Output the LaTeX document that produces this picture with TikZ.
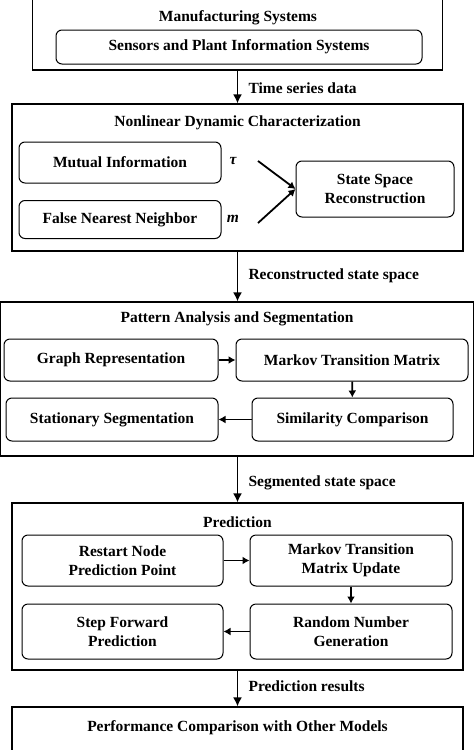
\documentclass[tikz,border=0pt]{standalone}
\usepackage{fontspec}
\setmainfont{Liberation Serif}
\usetikzlibrary{arrows.meta}
\begin{document}
\begin{tikzpicture}[x=1pt, y=-1pt,
		font=\bfseries\fontsize{15.5}{19}\selectfont,
		outer/.style={draw, line width=1.1pt, inner sep=0pt},
		block/.style={draw, line width=1pt, rounded corners=6pt, align=center, inner sep=0pt},
		flow/.style={line width=1.8pt, -{Latex[length=9pt, width=9pt]}},
		small/.style={line width=1.8pt, -{Latex[length=7pt, width=8pt]}}]
	\useasboundingbox (0,0) rectangle (474,750);
	\clip (0,0) rectangle (474,750);
	% manufacturing systems
	\node[outer, minimum width=410pt, minimum height=72pt] (sys) at (237.5,34) {};
	\node (systitle) at (238,18) {Manufacturing Systems};
	\node[block, minimum width=366pt, minimum height=34pt] (sensors) at (239,47) {Sensors and Plant Information Systems};
	% nonlinear dynamic characterization
	\node[outer, minimum width=451pt, minimum height=147pt] (ndc) at (237.5,177.5) {};
	\node (ndctitle) at (237.5,123) {Nonlinear Dynamic Characterization};
	\node[block, minimum width=202pt, minimum height=41pt] (mi) at (120,162.5) {Mutual Information};
	\node[block, minimum width=202pt, minimum height=38pt] (fnn) at (120,219.5) {False Nearest Neighbor};
	\node (tau) at (233,161) {\itshape τ};
	\node (m) at (233,219) {\itshape m};
	\node[block, minimum width=158pt, minimum height=56pt] (ssr) at (375,189) {State Space\\Reconstruction};
	\coordinate (taustart) at (258,161);
	\coordinate (mstart) at (258,223);
	\draw[small] (taustart) -- (ssr.west);
	\draw[small] (mstart) -- (ssr.west);
	% pattern analysis and segmentation
	\node[outer, minimum width=473pt, minimum height=154pt] (pas) at (237,379) {};
	\node (pastitle) at (237,319) {Pattern Analysis and Segmentation};
	\node[block, minimum width=214pt, minimum height=42pt] (graph) at (111,360) {Graph Representation};
	\node[block, minimum width=232pt, minimum height=42pt] (mtm) at (352,360) {Markov Transition Matrix};
	\node[block, minimum width=201pt, minimum height=43pt] (simil) at (352.5,419.5) {Similarity Comparison};
	\node[block, minimum width=212pt, minimum height=43pt] (stat) at (112,419.5) {Stationary Segmentation};
	\draw[small] (graph) -- (mtm);
	\draw[small] (mtm) -- (simil);
	\draw[small] (simil) -- (stat);
	% prediction
	\node[outer, minimum width=451pt, minimum height=167pt] (pred) at (237.5,586.5) {};
	\node (predtitle) at (237.5,522) {Prediction};
	\node[block, minimum width=201pt, minimum height=51pt] (restart) at (122.5,560.5) {Restart Node\\Prediction Point};
	\node[block, minimum width=202pt, minimum height=51pt] (update) at (351,560.5) {Markov Transition\\Matrix Update};
	\node[block, minimum width=202pt, minimum height=55pt] (random) at (351,631.5) {Random Number\\Generation};
	\node[block, minimum width=201pt, minimum height=55pt] (forward) at (122.5,631.5) {Step Forward\\Prediction};
	\draw[small] (restart) -- (update);
	\draw[small] (update) -- (random);
	\draw[small] (random) -- (forward);
	% performance comparison
	\node[outer, minimum width=451pt, minimum height=47pt] (perf) at (237.5,730.5) {};
	\node (perftext) at (237.5,728) {Performance Comparison with Other Models};
	% flow between stages
	\draw[flow] (sys.south) -- (ndc.north);
	\node[anchor=west] (timelbl) at (245,88) {Time series data};
	\draw[flow] (ndc.south) -- (pas.north -| ndc.south);
	\node[anchor=west] (reclbl) at (245,276) {Reconstructed state space};
	\draw[flow] (pas.south -| pred.north) -- (pred.north);
	\node[anchor=west] (seglbl) at (245,483) {Segmented state space};
	\draw[flow] (pred.south) -- (perf.north);
	\node[anchor=west] (reslbl) at (245,686) {Prediction results};
\end{tikzpicture}
\end{document}
